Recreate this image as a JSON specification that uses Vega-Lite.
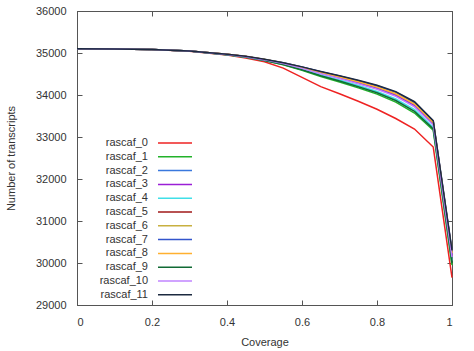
{
"$schema": "https://vega.github.io/schema/vega-lite/v6.json",
"width": 375, "height": 294,
"autosize": {"type": "none"},
"padding": {"left": 77, "top": 11, "right": 22, "bottom": 46},
"background": "white",
"config": {"view": {"stroke": "#555", "strokeWidth": 1}, "font": "Liberation Sans",
 "axis": {"domainColor": "#555", "tickColor": "#555", "labelColor": "#333", "titleColor": "#333", "labelFontSize": 11, "titleFontSize": 11, "titleFontWeight": "normal", "grid": false}},
"data": {"values": [
{"s":"rascaf_0","x":0,"y":35100},{"s":"rascaf_0","x":0.1,"y":35095},{"s":"rascaf_0","x":0.2,"y":35085},{"s":"rascaf_0","x":0.3,"y":35040},{"s":"rascaf_0","x":0.4,"y":34950},{"s":"rascaf_0","x":0.45,"y":34880},{"s":"rascaf_0","x":0.5,"y":34790},{"s":"rascaf_0","x":0.55,"y":34640},{"s":"rascaf_0","x":0.6,"y":34420},{"s":"rascaf_0","x":0.65,"y":34200},{"s":"rascaf_0","x":0.7,"y":34030},{"s":"rascaf_0","x":0.75,"y":33850},{"s":"rascaf_0","x":0.8,"y":33660},{"s":"rascaf_0","x":0.85,"y":33440},{"s":"rascaf_0","x":0.9,"y":33190},{"s":"rascaf_0","x":0.95,"y":32760},{"s":"rascaf_0","x":1,"y":29650},
{"s":"rascaf_1","x":0,"y":35100},{"s":"rascaf_1","x":0.1,"y":35095},{"s":"rascaf_1","x":0.2,"y":35085},{"s":"rascaf_1","x":0.3,"y":35045},{"s":"rascaf_1","x":0.4,"y":34960},{"s":"rascaf_1","x":0.45,"y":34900},{"s":"rascaf_1","x":0.5,"y":34820},{"s":"rascaf_1","x":0.55,"y":34720},{"s":"rascaf_1","x":0.6,"y":34590},{"s":"rascaf_1","x":0.65,"y":34440},{"s":"rascaf_1","x":0.7,"y":34310},{"s":"rascaf_1","x":0.75,"y":34170},{"s":"rascaf_1","x":0.8,"y":34020},{"s":"rascaf_1","x":0.85,"y":33830},{"s":"rascaf_1","x":0.9,"y":33570},{"s":"rascaf_1","x":0.95,"y":33160},{"s":"rascaf_1","x":1,"y":29950},
{"s":"rascaf_2","x":0,"y":35100},{"s":"rascaf_2","x":0.1,"y":35095},{"s":"rascaf_2","x":0.2,"y":35085},{"s":"rascaf_2","x":0.3,"y":35050},{"s":"rascaf_2","x":0.4,"y":34967},{"s":"rascaf_2","x":0.45,"y":34915},{"s":"rascaf_2","x":0.5,"y":34842},{"s":"rascaf_2","x":0.55,"y":34758},{"s":"rascaf_2","x":0.6,"y":34650},{"s":"rascaf_2","x":0.65,"y":34530},{"s":"rascaf_2","x":0.7,"y":34422},{"s":"rascaf_2","x":0.75,"y":34305},{"s":"rascaf_2","x":0.8,"y":34178},{"s":"rascaf_2","x":0.85,"y":34018},{"s":"rascaf_2","x":0.9,"y":33772},{"s":"rascaf_2","x":0.95,"y":33332},{"s":"rascaf_2","x":1,"y":30212},
{"s":"rascaf_3","x":0,"y":35100},{"s":"rascaf_3","x":0.1,"y":35095},{"s":"rascaf_3","x":0.2,"y":35085},{"s":"rascaf_3","x":0.3,"y":35050},{"s":"rascaf_3","x":0.4,"y":34966},{"s":"rascaf_3","x":0.45,"y":34913},{"s":"rascaf_3","x":0.5,"y":34840},{"s":"rascaf_3","x":0.55,"y":34753},{"s":"rascaf_3","x":0.6,"y":34642},{"s":"rascaf_3","x":0.65,"y":34518},{"s":"rascaf_3","x":0.7,"y":34408},{"s":"rascaf_3","x":0.75,"y":34287},{"s":"rascaf_3","x":0.8,"y":34156},{"s":"rascaf_3","x":0.85,"y":33992},{"s":"rascaf_3","x":0.9,"y":33746},{"s":"rascaf_3","x":0.95,"y":33310},{"s":"rascaf_3","x":1,"y":30178},
{"s":"rascaf_4","x":0,"y":35100},{"s":"rascaf_4","x":0.1,"y":35095},{"s":"rascaf_4","x":0.2,"y":35085},{"s":"rascaf_4","x":0.3,"y":35048},{"s":"rascaf_4","x":0.4,"y":34963},{"s":"rascaf_4","x":0.45,"y":34906},{"s":"rascaf_4","x":0.5,"y":34829},{"s":"rascaf_4","x":0.55,"y":34735},{"s":"rascaf_4","x":0.6,"y":34614},{"s":"rascaf_4","x":0.65,"y":34476},{"s":"rascaf_4","x":0.7,"y":34355},{"s":"rascaf_4","x":0.75,"y":34224},{"s":"rascaf_4","x":0.8,"y":34083},{"s":"rascaf_4","x":0.85,"y":33905},{"s":"rascaf_4","x":0.9,"y":33651},{"s":"rascaf_4","x":0.95,"y":33229},{"s":"rascaf_4","x":1,"y":30055},
{"s":"rascaf_5","x":0,"y":35100},{"s":"rascaf_5","x":0.1,"y":35095},{"s":"rascaf_5","x":0.2,"y":35085},{"s":"rascaf_5","x":0.3,"y":35050},{"s":"rascaf_5","x":0.4,"y":34969},{"s":"rascaf_5","x":0.45,"y":34918},{"s":"rascaf_5","x":0.5,"y":34847},{"s":"rascaf_5","x":0.55,"y":34765},{"s":"rascaf_5","x":0.6,"y":34662},{"s":"rascaf_5","x":0.65,"y":34548},{"s":"rascaf_5","x":0.7,"y":34445},{"s":"rascaf_5","x":0.75,"y":34332},{"s":"rascaf_5","x":0.8,"y":34209},{"s":"rascaf_5","x":0.85,"y":34055},{"s":"rascaf_5","x":0.9,"y":33813},{"s":"rascaf_5","x":0.95,"y":33367},{"s":"rascaf_5","x":1,"y":30265},
{"s":"rascaf_6","x":0,"y":35100},{"s":"rascaf_6","x":0.1,"y":35095},{"s":"rascaf_6","x":0.2,"y":35085},{"s":"rascaf_6","x":0.3,"y":35050},{"s":"rascaf_6","x":0.4,"y":34968},{"s":"rascaf_6","x":0.45,"y":34917},{"s":"rascaf_6","x":0.5,"y":34845},{"s":"rascaf_6","x":0.55,"y":34763},{"s":"rascaf_6","x":0.6,"y":34658},{"s":"rascaf_6","x":0.65,"y":34542},{"s":"rascaf_6","x":0.7,"y":34438},{"s":"rascaf_6","x":0.75,"y":34323},{"s":"rascaf_6","x":0.8,"y":34198},{"s":"rascaf_6","x":0.85,"y":34042},{"s":"rascaf_6","x":0.9,"y":33800},{"s":"rascaf_6","x":0.95,"y":33356},{"s":"rascaf_6","x":1,"y":30248},
{"s":"rascaf_7","x":0,"y":35100},{"s":"rascaf_7","x":0.1,"y":35095},{"s":"rascaf_7","x":0.2,"y":35085},{"s":"rascaf_7","x":0.3,"y":35050},{"s":"rascaf_7","x":0.4,"y":34969},{"s":"rascaf_7","x":0.45,"y":34919},{"s":"rascaf_7","x":0.5,"y":34848},{"s":"rascaf_7","x":0.55,"y":34768},{"s":"rascaf_7","x":0.6,"y":34666},{"s":"rascaf_7","x":0.65,"y":34554},{"s":"rascaf_7","x":0.7,"y":34452},{"s":"rascaf_7","x":0.75,"y":34341},{"s":"rascaf_7","x":0.8,"y":34220},{"s":"rascaf_7","x":0.85,"y":34068},{"s":"rascaf_7","x":0.9,"y":33826},{"s":"rascaf_7","x":0.95,"y":33378},{"s":"rascaf_7","x":1,"y":30282},
{"s":"rascaf_8","x":0,"y":35100},{"s":"rascaf_8","x":0.1,"y":35095},{"s":"rascaf_8","x":0.2,"y":35085},{"s":"rascaf_8","x":0.3,"y":35050},{"s":"rascaf_8","x":0.4,"y":34968},{"s":"rascaf_8","x":0.45,"y":34916},{"s":"rascaf_8","x":0.5,"y":34844},{"s":"rascaf_8","x":0.55,"y":34760},{"s":"rascaf_8","x":0.6,"y":34654},{"s":"rascaf_8","x":0.65,"y":34536},{"s":"rascaf_8","x":0.7,"y":34430},{"s":"rascaf_8","x":0.75,"y":34314},{"s":"rascaf_8","x":0.8,"y":34188},{"s":"rascaf_8","x":0.85,"y":34030},{"s":"rascaf_8","x":0.9,"y":33786},{"s":"rascaf_8","x":0.95,"y":33344},{"s":"rascaf_8","x":1,"y":30230},
{"s":"rascaf_9","x":0,"y":35100},{"s":"rascaf_9","x":0.1,"y":35095},{"s":"rascaf_9","x":0.2,"y":35085},{"s":"rascaf_9","x":0.3,"y":35048},{"s":"rascaf_9","x":0.4,"y":34961},{"s":"rascaf_9","x":0.45,"y":34903},{"s":"rascaf_9","x":0.5,"y":34824},{"s":"rascaf_9","x":0.55,"y":34728},{"s":"rascaf_9","x":0.6,"y":34602},{"s":"rascaf_9","x":0.65,"y":34458},{"s":"rascaf_9","x":0.7,"y":34332},{"s":"rascaf_9","x":0.75,"y":34197},{"s":"rascaf_9","x":0.8,"y":34052},{"s":"rascaf_9","x":0.85,"y":33868},{"s":"rascaf_9","x":0.9,"y":33610},{"s":"rascaf_9","x":0.95,"y":33194},{"s":"rascaf_9","x":1,"y":30002},
{"s":"rascaf_10","x":0,"y":35100},{"s":"rascaf_10","x":0.1,"y":35095},{"s":"rascaf_10","x":0.2,"y":35085},{"s":"rascaf_10","x":0.3,"y":35050},{"s":"rascaf_10","x":0.4,"y":34965},{"s":"rascaf_10","x":0.45,"y":34911},{"s":"rascaf_10","x":0.5,"y":34836},{"s":"rascaf_10","x":0.55,"y":34748},{"s":"rascaf_10","x":0.6,"y":34634},{"s":"rascaf_10","x":0.65,"y":34506},{"s":"rascaf_10","x":0.7,"y":34392},{"s":"rascaf_10","x":0.75,"y":34269},{"s":"rascaf_10","x":0.8,"y":34136},{"s":"rascaf_10","x":0.85,"y":33968},{"s":"rascaf_10","x":0.9,"y":33718},{"s":"rascaf_10","x":0.95,"y":33286},{"s":"rascaf_10","x":1,"y":30142},
{"s":"rascaf_11","x":0,"y":35100},{"s":"rascaf_11","x":0.1,"y":35095},{"s":"rascaf_11","x":0.2,"y":35085},{"s":"rascaf_11","x":0.3,"y":35050},{"s":"rascaf_11","x":0.4,"y":34970},{"s":"rascaf_11","x":0.45,"y":34920},{"s":"rascaf_11","x":0.5,"y":34850},{"s":"rascaf_11","x":0.55,"y":34770},{"s":"rascaf_11","x":0.6,"y":34670},{"s":"rascaf_11","x":0.65,"y":34560},{"s":"rascaf_11","x":0.7,"y":34460},{"s":"rascaf_11","x":0.75,"y":34350},{"s":"rascaf_11","x":0.8,"y":34230},{"s":"rascaf_11","x":0.85,"y":34080},{"s":"rascaf_11","x":0.9,"y":33840},{"s":"rascaf_11","x":0.95,"y":33390},{"s":"rascaf_11","x":1,"y":30300}
]},
"resolve": {"axis": {"x": "independent", "y": "independent"}},
"layer": [
 {"mark": {"type": "line", "strokeWidth": 1.5},
  "encoding": {
   "x": {"field": "x", "type": "quantitative", "scale": {"domain": [0, 1], "nice": false},
    "axis": {"orient": "bottom", "values": [0, 0.2, 0.4, 0.6, 0.8, 1], "format": "~g", "title": "Coverage", "tickSize": -5, "labelPadding": 16, "titlePadding": 9}},
   "y": {"field": "y", "type": "quantitative", "scale": {"domain": [29000, 36000], "nice": false, "zero": false},
    "axis": {"orient": "left", "values": [29000, 30000, 31000, 32000, 33000, 34000, 35000, 36000], "format": "d", "title": "Number of transcripts", "tickSize": -5, "labelPadding": 16, "titlePadding": 19}},
   "color": {"field": "s", "type": "nominal",
    "scale": {"domain": ["rascaf_0","rascaf_1","rascaf_2","rascaf_3","rascaf_4","rascaf_5","rascaf_6","rascaf_7","rascaf_8","rascaf_9","rascaf_10","rascaf_11"],
     "range": ["#ee2222","#22b22a","#3a78dd","#9a1fd6","#40dfe8","#a01818","#c8b040","#3355cc","#ffb030","#106a34","#c084ff","#1c2a40"]},
    "legend": {"orient": "none", "legendX": 92, "legendY": 126, "title": null, "padding": 0, "symbolType": "M-3.4,0H3.4", "symbolSize": 100, "symbolStrokeWidth": 1.5, "labelAlign": "right", "labelOffset": -33, "labelFontSize": 11, "labelColor": "#333", "rowPadding": 2.8}}
  }},
 {"mark": {"type": "line", "opacity": 0},
  "encoding": {
   "x": {"field": "x", "type": "quantitative", "axis": {"orient": "top", "values": [0, 0.2, 0.4, 0.6, 0.8, 1], "labels": false, "title": null, "tickSize": -5}},
   "y": {"field": "y", "type": "quantitative", "axis": {"orient": "right", "values": [29000, 30000, 31000, 32000, 33000, 34000, 35000, 36000], "labels": false, "title": null, "tickSize": -5}},
   "detail": {"field": "s"}
  }}
]
}
